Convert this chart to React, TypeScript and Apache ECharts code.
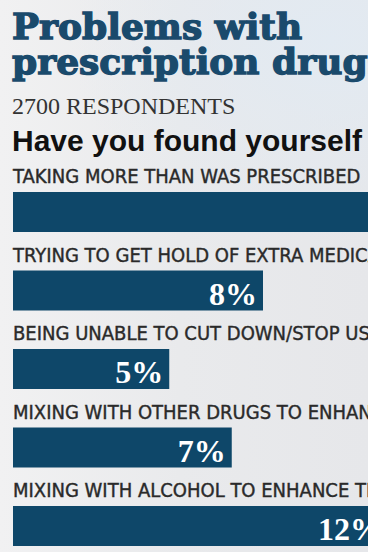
import React, { useEffect, useRef } from "react";
import * as echarts from "echarts";

const titleLines = ["Problems with", "prescription drugs"];
const subtitle = "2700 RESPONDENTS";
const question = "Have you found yourself";
const categories = [
  "TAKING MORE THAN WAS PRESCRIBED",
  "TRYING TO GET HOLD OF EXTRA MEDICATION",
  "BEING UNABLE TO CUT DOWN/STOP USING",
  "MIXING WITH OTHER DRUGS TO ENHANCE THE EFFECT",
  "MIXING WITH ALCOHOL TO ENHANCE THE EFFECT",
];
const values = [15, 8, 5, 7, 12];

const BAR = "#0e4769";
const TITLE = "#1a4a6c";

const titleStyle = {
  fontFamily: "DejaVu Serif",
  fontWeight: "bold",
  fontSize: 36,
  lineHeight: 35,
  color: TITLE,
  textBorderColor: TITLE,
  textBorderWidth: 1.4,
};

export default function App() {
  const ref = useRef<HTMLDivElement>(null);
  useEffect(() => {
    const chart = echarts.init(ref.current!, null, { renderer: "svg" });
    chart.setOption({
      animation: false,
      backgroundColor: "transparent",
      title: [
        {
          text: titleLines[0],
          left: 12,
          top: 8,
          padding: 0,
          textStyle: titleStyle,
        },
        {
          text: titleLines[1],
          left: 12,
          top: 43,
          padding: 0,
          textStyle: titleStyle,
        },
        {
          text: subtitle,
          left: 12,
          top: 94,
          padding: 0,
          textStyle: {
            fontFamily: "Liberation Serif",
            fontWeight: "normal",
            fontSize: 24,
            color: "#333333",
          },
        },
        {
          text: question,
          left: 12,
          top: 125,
          padding: 0,
          textStyle: {
            fontFamily: "Liberation Sans",
            fontWeight: "bold",
            fontSize: 30,
            color: "#111111",
          },
        },
      ],
      grid: { left: 13, top: 172.75, width: 500, height: 392.5 },
      xAxis: { type: "value", min: 0, max: 16, show: false },
      yAxis: { type: "category", data: categories, inverse: true, show: false },
      series: [
        {
          type: "bar",
          data: values,
          barWidth: 40,
          clip: false,
          itemStyle: { color: BAR },
          label: {
            show: true,
            position: "insideRight",
            distance: 6,
            offset: [0, 3],
            formatter: "{c}%",
            fontFamily: "Liberation Serif",
            fontWeight: "bold",
            fontSize: 32,
            color: "#ffffff",
          },
        },
        {
          type: "bar",
          data: values,
          barWidth: 40,
          barGap: "-100%",
          clip: false,
          silent: true,
          itemStyle: { color: "transparent" },
          label: {
            show: true,
            position: [0, -5],
            align: "left",
            verticalAlign: "bottom",
            formatter: (p: any) => categories[p.dataIndex],
            fontFamily: "'Liberation Sans Narrow', 'DejaVu Sans Condensed', 'Liberation Sans'",
            fontSize: 20,
            lineHeight: 22,
            color: "#2a2a2a",
            textBorderColor: "#2a2a2a",
            textBorderWidth: 0.4,
          },
        },
      ],
    });
    return () => chart.dispose();
  }, []);
  return (
    <div
      ref={ref}
      style={{
        position: "fixed",
        left: 0,
        top: 0,
        width: 520,
        height: 566,
        background:
          "radial-gradient(ellipse 260px 200px at 330px 40px, #e2eaf2 0%, rgba(226,234,242,0) 100%), linear-gradient(90deg, #f1f1f2 0px, #e9eaec 180px, #e6e7ea 368px)",
      }}
    />
  );
}
